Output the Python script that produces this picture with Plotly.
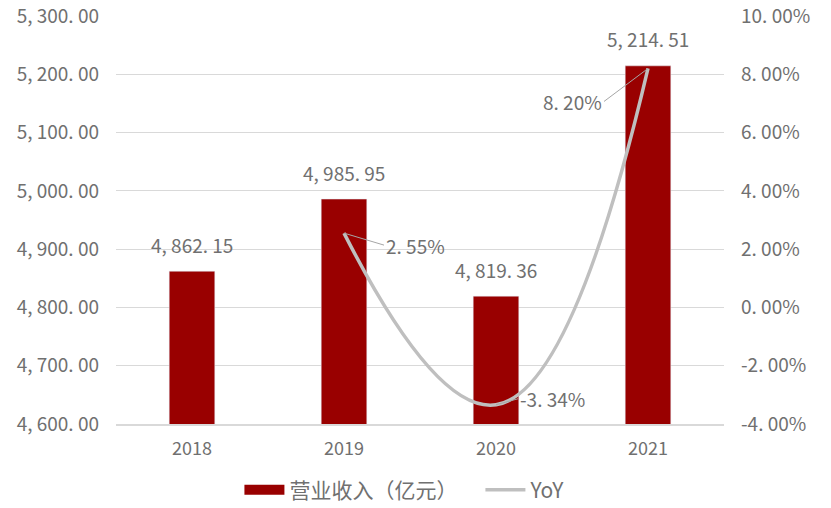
import plotly.graph_objects as go

years = ["2018", "2019", "2020", "2021"]
revenue = [4862.15, 4985.95, 4819.36, 5214.51]
yoy_years = ["2019", "2020", "2021"]
yoy = [0.0255, -0.0334, 0.0820]

left_ticks = [4600, 4700, 4800, 4900, 5000, 5100, 5200, 5300]
right_ticks = [-0.04, -0.02, 0.0, 0.02, 0.04, 0.06, 0.08, 0.10]

def fmt_num(v):
    return f"{v:,.2f}".replace(",", ", ").replace(".", ". ")

def fmt_pct(v):
    return f"{v*100:.2f}".replace(".", ". ") + "%"

FONT = "Noto Sans CJK SC"
TXT = "#707070"
RED = "#990000"

fig = go.Figure()
fig.add_trace(go.Bar(
    x=years, y=revenue, name="营业收入（亿元）", showlegend=False,
    marker=dict(color=RED), width=0.3,
))
# value labels above bars
for i, v in enumerate(revenue):
    fig.add_annotation(
        x=i, y=v, xref="x", yref="y", text=fmt_num(v), showarrow=False,
        yanchor="middle", yshift=27, font=dict(color=TXT, size=19, family=FONT),
    )
# legend entry for bars drawn as a wide red swatch
fig.add_trace(go.Scatter(
    x=[None], y=[None], name="营业收入（亿元）", mode="lines",
    line=dict(color=RED, width=14),
))
fig.add_trace(go.Scatter(
    x=yoy_years, y=yoy, name="YoY", yaxis="y2", mode="lines",
    line=dict(color="#bfbfbf", width=3.5, shape="spline", smoothing=1.3),
))

offsets = [(40, 12, "left"), (22, -6, "left"), (-44, 33, "right")]
for xv, yv, (ax, ay, anc) in zip(yoy_years, yoy, offsets):
    fig.add_annotation(
        x=years.index(xv), y=yv, xref="x", yref="y2", text=fmt_pct(yv), showarrow=True,
        arrowhead=0, arrowwidth=1, arrowcolor="#a6a6a6", ax=ax, ay=ay,
        xanchor=anc, font=dict(color=TXT, size=19, family=FONT), standoff=0,
    )

fig.update_layout(
    width=831, height=508, margin=dict(l=116, r=107, t=16, b=84, autoexpand=False),
    paper_bgcolor="white", plot_bgcolor="white",
    font=dict(family=FONT, color=TXT, size=19),
    xaxis=dict(type="category", range=[-0.5, 3.5], showline=True, linecolor="#d9d9d9",
               linewidth=1.5, ticks="", tickfont=dict(size=18, color=TXT),
               ticklabelstandoff=8, automargin=False),
    yaxis=dict(range=[4600, 5300], tickvals=left_ticks,
               ticktext=[fmt_num(v) for v in left_ticks],
               showgrid=True, gridcolor="#d9d9d9", gridwidth=1.2, zeroline=False,
               tickfont=dict(size=19, color=TXT), ticklabelstandoff=16, automargin=False),
    yaxis2=dict(range=[-0.04, 0.10], overlaying="y", side="right",
                tickvals=right_ticks, ticktext=[fmt_pct(v) for v in right_ticks],
                showgrid=False, zeroline=False,
                tickfont=dict(size=19, color=TXT), ticklabelstandoff=16, automargin=False),
    legend=dict(orientation="h", x=0.203, xanchor="left", y=-0.162, yanchor="middle",
                font=dict(size=21, color=TXT), itemwidth=40, tracegroupgap=0,
                entrywidth=186, entrywidthmode="pixels"),
    showlegend=True,
)

fig.write_html("out.html")
